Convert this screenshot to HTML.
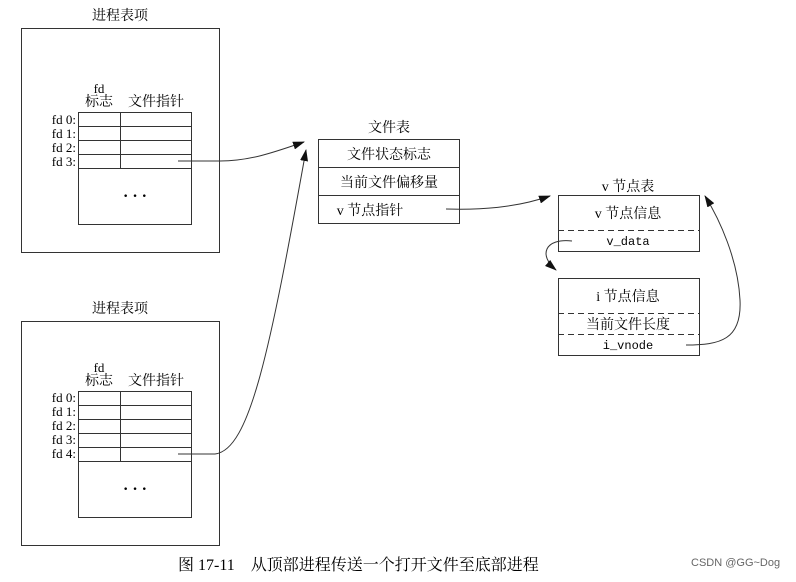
<!DOCTYPE html>
<html><head><meta charset="utf-8"><style>
body{margin:0;background:#fff;}
svg text{font-family:"Liberation Serif","Noto Serif CJK SC",serif;fill:#000;}
.m{font-family:"Liberation Mono",monospace !important;}
</style></head><body>
<svg width="796" height="577" viewBox="0 0 796 577" xmlns="http://www.w3.org/2000/svg">
<defs><marker id="a" markerWidth="12" markerHeight="8" refX="11" refY="4" orient="auto" markerUnits="userSpaceOnUse"><path d="M0,0 L12,4 L0,8 Z" fill="#111"/></marker></defs>
<g stroke="#333" stroke-width="1" fill="none">
<rect x="21.5" y="28.5" width="198" height="224"/>
<rect x="78.5" y="112.5" width="113" height="112"/>
<line x1="78" y1="126.5" x2="191" y2="126.5"/><line x1="78" y1="140.5" x2="191" y2="140.5"/><line x1="78" y1="154.5" x2="191" y2="154.5"/><line x1="78" y1="168.5" x2="191" y2="168.5"/>
<line x1="120.5" y1="112" x2="120.5" y2="168"/>
<rect x="21.5" y="321.5" width="198" height="224"/>
<rect x="78.5" y="391.5" width="113" height="126"/>
<line x1="78" y1="405.5" x2="191" y2="405.5"/><line x1="78" y1="419.5" x2="191" y2="419.5"/><line x1="78" y1="433.5" x2="191" y2="433.5"/><line x1="78" y1="447.5" x2="191" y2="447.5"/><line x1="78" y1="461.5" x2="191" y2="461.5"/>
<line x1="120.5" y1="391" x2="120.5" y2="461"/>
<rect x="318.5" y="139.5" width="141" height="84"/>
<line x1="318" y1="167.5" x2="459" y2="167.5"/><line x1="318" y1="195.5" x2="459" y2="195.5"/>
<rect x="558.5" y="195.5" width="141" height="56"/>
<line x1="558" y1="230.5" x2="699" y2="230.5" stroke-dasharray="6,4"/>
<rect x="558.5" y="278.5" width="141" height="77"/>
<line x1="558" y1="313.5" x2="699" y2="313.5" stroke-dasharray="6,4"/>
<line x1="558" y1="334.5" x2="699" y2="334.5" stroke-dasharray="6,4"/>
<path d="M178,161 L220,161 C250,161 275,152 304,142" marker-end="url(#a)"/>
<path d="M178,454 L215,454 C250,450 270,350 306,150" marker-end="url(#a)"/>
<path d="M446,209 C480,210 515,208 550,196" marker-end="url(#a)"/>
<path d="M572,241 C545,238 538,255 556,270" marker-end="url(#a)"/>
<path d="M686,345 C720,345 742,340 740,300 C738,260 720,220 705,196" marker-end="url(#a)"/>
</g>
<g font-size="14">
<text x="120" y="20" text-anchor="middle">进程表项</text>
<text x="99" y="93" text-anchor="middle" font-size="13">fd</text>
<text x="99" y="106" text-anchor="middle">标志</text>
<text x="156" y="106" text-anchor="middle">文件指针</text>
<text x="76" y="124" text-anchor="end" font-size="13">fd 0:</text>
<text x="76" y="138" text-anchor="end" font-size="13">fd 1:</text>
<text x="76" y="152" text-anchor="end" font-size="13">fd 2:</text>
<text x="76" y="166" text-anchor="end" font-size="13">fd 3:</text>
<text x="135" y="201" text-anchor="middle" font-size="16" font-weight="bold">· · ·</text>

<text x="120" y="313" text-anchor="middle">进程表项</text>
<text x="99" y="372" text-anchor="middle" font-size="13">fd</text>
<text x="99" y="385" text-anchor="middle">标志</text>
<text x="156" y="385" text-anchor="middle">文件指针</text>
<text x="76" y="402" text-anchor="end" font-size="13">fd 0:</text>
<text x="76" y="416" text-anchor="end" font-size="13">fd 1:</text>
<text x="76" y="430" text-anchor="end" font-size="13">fd 2:</text>
<text x="76" y="444" text-anchor="end" font-size="13">fd 3:</text>
<text x="76" y="458" text-anchor="end" font-size="13">fd 4:</text>
<text x="135" y="494" text-anchor="middle" font-size="16" font-weight="bold">· · ·</text>

<text x="389" y="132" text-anchor="middle">文件表</text>
<text x="389" y="159" text-anchor="middle">文件状态标志</text>
<text x="389" y="187" text-anchor="middle">当前文件偏移量</text>
<text x="370" y="215" text-anchor="middle">v 节点指针</text>

<text x="628" y="191" text-anchor="middle">v 节点表</text>
<text x="628" y="218" text-anchor="middle">v 节点信息</text>
<text x="628" y="245" text-anchor="middle" class="m" font-size="12">v_data</text>
<text x="628" y="301" text-anchor="middle">i 节点信息</text>
<text x="628" y="329" text-anchor="middle">当前文件长度</text>
<text x="628" y="349" text-anchor="middle" class="m" font-size="12">i_vnode</text>

<text x="178" y="570" font-size="16">图 17-11　从顶部进程传送一个打开文件至底部进程</text>
</g>
<text x="691" y="566" font-size="11" style="font-family:'Liberation Sans',sans-serif;fill:#666">CSDN @GG~Dog</text>
</svg>
</body></html>
